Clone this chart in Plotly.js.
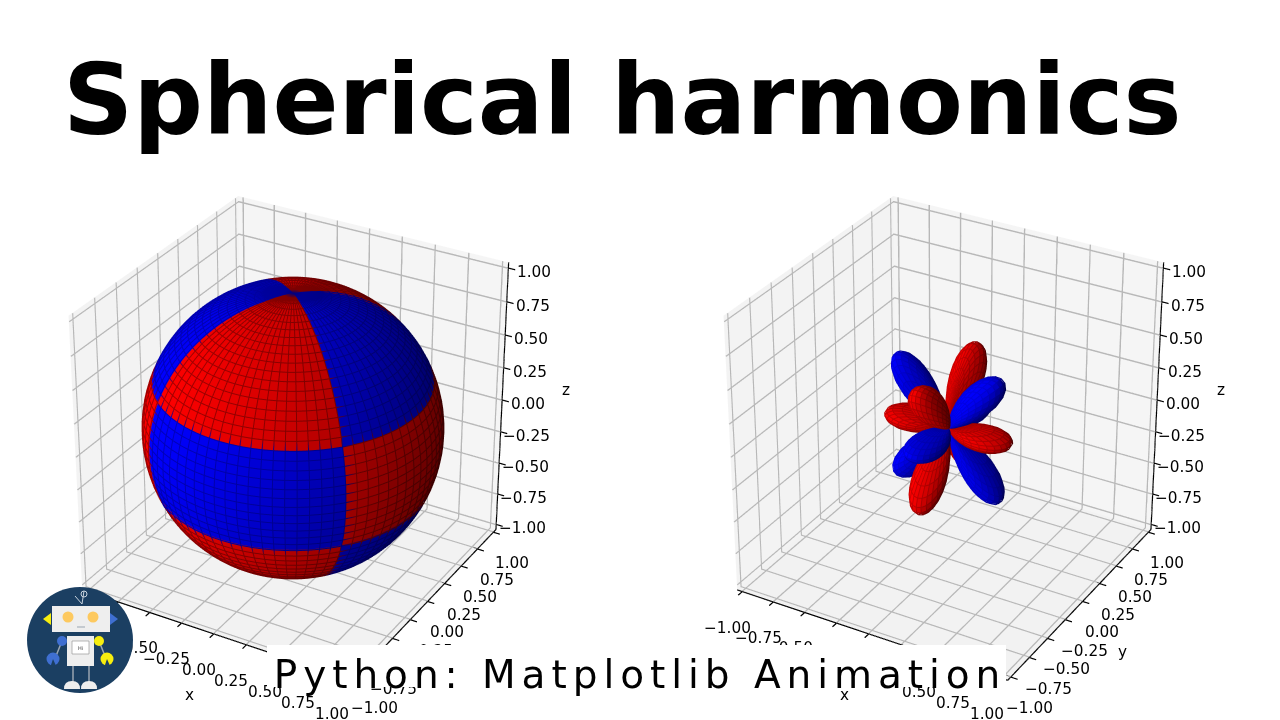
<!DOCTYPE html>
<html><head><meta charset="utf-8">
<script src="https://cdn.plot.ly/plotly-3.0.1.min.js"></script>
<style>
html,body{margin:0;padding:0;background:#fff;width:1280px;height:720px;overflow:hidden}
#stage{position:absolute;left:0;top:0;width:1280px;height:720px;overflow:hidden}
#scenes{position:absolute}
#overlay{position:absolute;left:0;top:0;width:1280px;height:720px;pointer-events:none}
#overlay .annotation[data-index="1"] text{letter-spacing:5.95px}
</style></head><body>
<div id="stage"><div id="scenes"></div><div id="overlay"></div></div>
<script>
// The marks are the surface of the real spherical harmonic identified from the picture
// (degree 4, order 2: its node lines and lobes match). Axis values, mesh counts and the
// sphere's colour phase are read off the picture.
const titleText = "Spherical harmonics";
const subtitleText = "Python: Matplotlib Animation";
const tickValues = [-1,-0.75,-0.5,-0.25,0,0.25,0.5,0.75,1];
const tickLabels = ["\u22121.00","\u22120.75","\u22120.50","\u22120.25","0.00","0.25","0.50","0.75","1.00"];
const order = 2;
const thetaSteps = 50, phiSteps = 80;
const spherePhaseDeg = 5.7;
const positiveColor = [0,0,255], negativeColor = [255,0,0];
const lightDir = [-0.667,-0.667,0.333];
const paneLimit = 1.0417, sceneLimit = 1.2;

const SCENE = 2100, GAP = 654.7, CX = 293, CY = 427.5, EYE = 7.05;
const W = SCENE + GAP;

const grid = (n,max)=>Array.from({length:n+1},(_,i)=>i*max/n);
const thetas = grid(thetaSteps,Math.PI), phis = grid(phiSteps,2*Math.PI);
const harmonic = (t,p)=>Math.SQRT2*(3/8)*Math.sqrt(5/(2*Math.PI))*Math.cos(order*p)*
  Math.pow(Math.sin(t),2)*(7*Math.pow(Math.cos(t),2)-1);

function buildSurface(radius,phase,wireRed,wireBlue){
  const x=[],y=[],z=[],i=[],j=[],k=[],fc=[],lx=[],ly=[],lz=[],lc=[];
  const n=phis.length;
  const P=(t,p,s=0)=>{const r=radius(t,p)+s;return [r*Math.sin(t)*Math.cos(p),r*Math.sin(t)*Math.sin(p),r*Math.cos(t)]};
  const colorAt=(t,p,wire)=>{
    const d=0.01;
    const pa=P(t-d,p),pb=P(t+d,p),pc=P(t,p-d),pd=P(t,p+d);
    const u=[pb[0]-pa[0],pb[1]-pa[1],pb[2]-pa[2]],w=[pd[0]-pc[0],pd[1]-pc[1],pd[2]-pc[2]];
    let nn=[u[1]*w[2]-u[2]*w[1],u[2]*w[0]-u[0]*w[2],u[0]*w[1]-u[1]*w[0]];
    const len=Math.hypot(...nn)||1;nn=nn.map(v=>v/len);
    const dot=nn[0]*lightDir[0]+nn[1]*lightDir[1]+nn[2]*lightDir[2];
    const positive=harmonic(t,p-phase)>=0;
    const factor=wire?(positive?wireBlue:wireRed):1;
    const shade=(0.3+0.7*(dot+1)/2)*factor;
    const base=positive?positiveColor:negativeColor;
    return `rgb(${Math.round(base[0]*shade)},${Math.round(base[1]*shade)},${Math.round(base[2]*shade)})`;
  };
  thetas.forEach(t=>phis.forEach(p=>{const q=P(t,p);x.push(q[0]);y.push(q[1]);z.push(q[2]);}));
  for(let a=0;a<thetas.length-1;a++)for(let b=0;b<n-1;b++){
    const v0=a*n+b,v1=a*n+b+1,v2=(a+1)*n+b+1,v3=(a+1)*n+b;
    const col=colorAt((thetas[a]+thetas[a+1])/2,(phis[b]+phis[b+1])/2,false);
    i.push(v0,v0);j.push(v1,v2);k.push(v2,v3);fc.push(col,col);
  }
  const add=(t,p)=>{const q=P(t,p,0.006);lx.push(q[0]);ly.push(q[1]);lz.push(q[2]);lc.push(colorAt(t,p,true));};
  const gap=()=>{lx.push(null);ly.push(null);lz.push(null);lc.push('#000');};
  thetas.forEach(t=>{phis.forEach(p=>add(t,p));gap();});
  phis.forEach(p=>{thetas.forEach(t=>add(t,p));gap();});
  return {x,y,z,i,j,k,fc,lx,ly,lz,lc};
}
function lineTrace(scene,segs,color,width){
  const xs=[],ys=[],zs=[];
  segs.forEach(([a,b])=>{xs.push(a[0],b[0],null);ys.push(a[1],b[1],null);zs.push(a[2],b[2],null);});
  return {type:'scatter3d',mode:'lines',scene,x:xs,y:ys,z:zs,line:{color,width},hoverinfo:'skip',showlegend:false};
}
function frameTraces(scene){
  const p=paneLimit,e=0.002;
  const quad=(xs,ys,zs,color)=>({type:'mesh3d',scene,x:xs,y:ys,z:zs,i:[0,0],j:[1,2],k:[2,3],color,flatshading:true,
    lighting:{ambient:1,diffuse:0,specular:0,roughness:1,fresnel:0},hoverinfo:'skip',showscale:false});
  const panes=[
    quad([-p,p,p,-p],[-p,-p,p,p],[-p,-p,-p,-p],'#f2f2f2'),
    quad([-p,-p,-p,-p],[-p,p,p,-p],[-p,-p,p,p],'#f3f3f3'),
    quad([-p,p,p,-p],[p,p,p,p],[-p,-p,p,p],'#f5f5f5')];
  const g=[];
  tickValues.forEach(v=>{
    g.push([[v,-p,-p+e],[v,p,-p+e]],[[-p,v,-p+e],[p,v,-p+e]]);
    g.push([[-p+e,v,-p],[-p+e,v,p]],[[-p+e,-p,v],[-p+e,p,v]]);
    g.push([[v,p-e,-p],[v,p-e,p]],[[-p,p-e,v],[p,p-e,v]]);
  });
  const a=[[[-p,-p,-p],[p,-p,-p]],[[p,-p,-p],[p,p,-p]],[[p,p,-p],[p,p,p]]];
  tickValues.forEach(v=>{
    a.push([[v,-p+0.03,-p],[v,-p-0.05,-p]]);
    a.push([[p-0.03,v,-p],[p+0.05,v,-p]]);
    a.push([[p-0.03,p,v],[p+0.05,p,v]]);
  });
  return [...panes,lineTrace(scene,g,'#b8b8b8',3),lineTrace(scene,a,'#000',2.4)];
}
function surfaceTraces(s,scene){
  const mesh={type:'mesh3d',scene,x:s.x,y:s.y,z:s.z,i:s.i,j:s.j,k:s.k,facecolor:s.fc,flatshading:true,
    lighting:{ambient:1,diffuse:0,specular:0,roughness:1,fresnel:0},hoverinfo:'skip',showscale:false};
  const wire={type:'scatter3d',mode:'lines',scene,x:s.lx,y:s.ly,z:s.lz,line:{color:s.lc,width:2},hoverinfo:'skip',showlegend:false,connectgaps:false};
  return [...frameTraces(scene),mesh,wire];
}
const font={family:'DejaVu Sans',size:15.3,color:'#000'};
function sceneAnnotations(){
  const out=[],p=paneLimit;
  const add=(x,y,z,text,xshift,yshift)=>out.push({x,y,z,text,xshift,yshift,showarrow:false,font,xanchor:'center',yanchor:'middle'});
  tickValues.forEach((v,n)=>{
    add(v,-p,-p,tickLabels[n],-15,-36);
    add(p,v,-p,tickLabels[n],19,-31);
    add(p,p,v,tickLabels[n],26,-4);
  });
  add(0,-p,-p,'x',-24,-61);add(p,0,-p,'y',40,-51);add(p,p,0,'z',64,10);
  return out;
}
const axisCfg={range:[-sceneLimit,sceneLimit],autorange:false,visible:false,showspikes:false};
function sceneCfg(domainX){
  return {domain:{x:domainX,y:[0,1]},aspectmode:'cube',bgcolor:'rgba(0,0,0,0)',
    xaxis:axisCfg,yaxis:axisCfg,zaxis:axisCfg,
    camera:{up:{x:0,y:0,z:1},center:{x:0,y:0,z:0},eye:{x:EYE*0.433,y:-EYE*0.75,z:EYE*0.5},projection:{type:'perspective'}},
    annotations:sceneAnnotations()};
}
const el=document.getElementById('scenes');
el.style.left=(CX-SCENE/2)+'px';el.style.top=(CY-SCENE/2)+'px';el.style.width=W+'px';el.style.height=SCENE+'px';
const sphere=buildSurface(()=>1,spherePhaseDeg*Math.PI/180,0.65,0.75);
const lobes=buildSurface((t,p)=>Math.abs(harmonic(t,p)),0,0.8,0.9);
Plotly.newPlot(el,[...surfaceTraces(sphere,'scene'),...surfaceTraces(lobes,'scene2')],{
  width:W,height:SCENE,margin:{l:0,r:0,t:0,b:0,pad:0},paper_bgcolor:'rgba(0,0,0,0)',showlegend:false,
  scene:sceneCfg([0,SCENE/W]),scene2:sceneCfg([GAP/W,1])
},{displayModeBar:false});

// Overlay in pixel coordinates: headline, subtitle band, logo
const navy='#1b3f62',pale='#eeeeee',gold='#fdc95f',blue='#3f6fd1',yellow='#f7ee0f',gray='#9aa5b1';
const rect=(x0,y0,x1,y1,fill,lc)=>({type:'rect',x0,y0,x1,y1,fillcolor:fill,line:{color:lc||fill,width:lc?0.7:0}});
const circ=(cx,cy,r,fill)=>({type:'circle',x0:cx-r,x1:cx+r,y0:cy-r,y1:cy+r,fillcolor:fill,line:{width:0}});
const line=(x0,y0,x1,y1,c,w)=>({type:'line',x0,y0,x1,y1,line:{color:c,width:w}});
const poly=(d,fill)=>({type:'path',path:d,fillcolor:fill,line:{width:0}});
Plotly.newPlot('overlay',[],{
  width:1280,height:720,margin:{l:0,r:0,t:0,b:0},paper_bgcolor:'rgba(0,0,0,0)',plot_bgcolor:'rgba(0,0,0,0)',showlegend:false,
  xaxis:{range:[0,1280],visible:false,fixedrange:true},yaxis:{range:[720,0],visible:false,fixedrange:true},
  shapes:[
    rect(267,645,1006,687,'#fff'),
    circ(80,640,53,navy),
    line(82,604,75,596,'#c8d3de',1),line(82,604,84,591,'#c8d3de',1),
    {type:'circle',x0:81,x1:87,y0:591,y1:597,line:{color:'#c8d3de',width:1},fillcolor:'rgba(0,0,0,0)'},
    rect(52,606,110,632,pale),circ(68,617,5.5,gold),circ(93,617,5.5,gold),line(77,627,85,627,gray,1),
    poly('M43,619 L51,613 L51,625 Z',yellow),poly('M118,619 L110,613 L110,625 Z',blue),
    line(73,666,73,682,gray,1.5),line(89,666,89,682,gray,1.5),
    rect(67,636,94,666,pale),rect(72,641,89,654,'#fff','#999'),
    line(62,641,56,656,gray,1.5),line(99,641,105,656,gray,1.5),
    circ(62,641,5,blue),circ(99,641,5,yellow),
    circ(53,659,6.5,blue),poly('M53,659 L50,668 L57,668 Z',navy),
    circ(107,659,6.5,yellow),poly('M107,659 L104,668 L111,668 Z',navy),
    poly('M64,689 Q64,681 72,681 Q80,681 80,689 Z',pale),poly('M81,689 Q81,681 89,681 Q97,681 97,689 Z',pale)
  ],
  annotations:[
    {xref:'x',yref:'y',x:622.5,y:99.5,text:titleText,showarrow:false,xanchor:'center',yanchor:'middle',
     font:{family:'DejaVu Sans',size:97.5,color:'#000',weight:700}},
    {xref:'x',yref:'y',x:639.5,y:674,text:subtitleText,showarrow:false,xanchor:'center',yanchor:'middle',
     font:{family:'DejaVu Sans',size:39,color:'#000'}},
    {xref:'x',yref:'y',x:80.5,y:647.5,text:'Hi',showarrow:false,font:{family:'DejaVu Sans',size:5,color:'#444'}}
  ]
},{displayModeBar:false,staticPlot:true});
</script></body></html>
